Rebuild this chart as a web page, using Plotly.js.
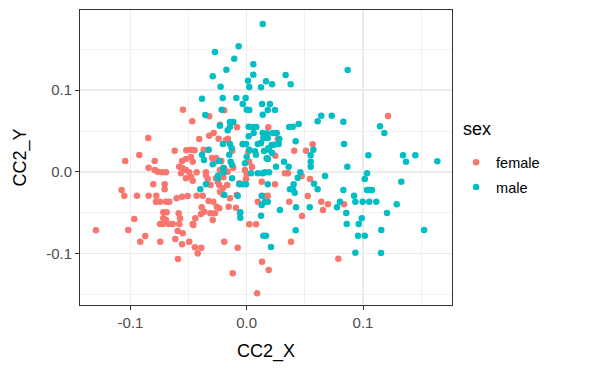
<!DOCTYPE html>
<html><head><meta charset="utf-8">
<script src="https://cdn.plot.ly/plotly-3.0.1.min.js"></script>
<style>html,body{margin:0;padding:0;background:#fff}#chart{width:601px;height:372px}</style>
</head><body><div id="chart"></div>
<script>
const femaleX = [-0.0548,-0.0468,-0.0322,-0.0193,-0.0230,-0.0083,-0.0846,-0.0322,-0.0284,-0.0241,-0.0408,-0.0161,-0.0923,-0.0619,-0.0519,-0.0479,-0.0447,-0.0370,-0.0124,-0.0479,-0.0264,-0.0178,-0.0330,-0.0298,-0.0034,0.0014,-0.0115,-0.0350,-0.0230,-0.0430,-0.0015,-0.0464,0.1215,0.0267,0.0567,0.0409,0.0510,0.0246,0.0186,0.0020,0.0046,0.0329,0.0355,0.0473,0.0544,0.0243,0.0181,0.0366,0.0525,0.0641,0.0699,0.0837,0.0656,0.0476,0.0381,0.0788,0.0189,0.0000,0.0129,0.0149,0.0095,0.0022,0.0080,-0.1044,-0.0791,-0.0843,-0.0791,-0.0765,-0.0728,-0.0694,-0.0803,-0.0705,-0.0705,-0.1075,-0.1052,-0.0943,-0.0843,-0.0777,-0.0780,-0.0745,-0.0694,-0.0666,-0.0602,-0.0556,-0.0507,-0.0556,-0.0522,-0.0580,-0.0550,-0.0522,-0.0565,-0.0494,-0.0522,-0.0479,-0.0464,-0.0430,-0.0378,-0.0327,-0.0966,-0.1296,-0.1018,-0.0872,-0.0915,-0.0743,-0.0717,-0.0688,-0.0717,-0.0694,-0.0745,-0.0720,-0.0671,-0.0636,-0.0585,-0.0573,-0.0580,-0.0593,-0.0550,-0.0614,-0.0556,-0.0494,-0.0445,-0.0421,-0.0390,-0.0591,-0.0464,-0.0442,-0.0393,-0.0365,-0.0387,-0.0313,-0.0292,-0.0236,-0.0193,-0.0077,-0.0120,0.0089,0.0132,-0.0092,-0.0006,-0.0064,-0.0236,-0.0206,-0.0230,-0.0206,-0.0350,-0.0335,-0.0270,-0.0218,-0.0193,-0.0163,-0.0249,-0.0155,-0.0264,-0.0201,-0.0167,-0.0287,-0.0258,-0.0273,-0.0086,-0.0058,-0.0144,-0.0459,-0.0310];
const femaleY = [0.0762,0.0620,0.0681,0.0754,0.0578,0.0546,0.0416,0.0444,0.0477,0.0407,0.0403,0.0407,0.0208,0.0260,0.0265,0.0273,0.0265,0.0273,0.0260,0.0183,0.0171,0.0391,0.0269,0.0171,0.0339,0.0248,0.0053,-0.0004,0.0024,-0.0004,0.0024,0.0126,0.0685,0.0403,0.0339,0.0260,0.0260,0.0199,0.0546,0.0126,0.0061,-0.0016,-0.0016,-0.0049,-0.0086,-0.0150,-0.0290,-0.0363,-0.0293,-0.0363,-0.0395,-0.0395,-0.0465,-0.0538,-0.0852,-0.1060,-0.1198,-0.0024,-0.0119,-0.0293,-0.0363,-0.0639,-0.0639,0.0134,0.0134,0.0053,0.0024,0.0004,-0.0004,-0.0004,-0.0150,-0.0150,-0.0211,-0.0220,-0.0290,-0.0290,-0.0290,-0.0290,-0.0363,-0.0363,-0.0363,-0.0363,-0.0322,-0.0302,-0.0293,0.0134,0.0159,0.0065,0.0045,0.0024,-0.0016,-0.0004,-0.0077,-0.0057,-0.0106,-0.0290,-0.0290,-0.0355,-0.0575,-0.0713,-0.0709,-0.0782,-0.0852,-0.0852,-0.0493,-0.0493,-0.0566,-0.0587,-0.0636,-0.0636,-0.0636,-0.0636,-0.0505,-0.0566,-0.0636,-0.0721,-0.0750,-0.0819,-0.0884,-0.0852,-0.0921,-0.0994,-0.0925,-0.1064,-0.0636,-0.0566,-0.0513,-0.0485,-0.0432,-0.0505,-0.0587,-0.0444,-0.0852,-0.0925,-0.1238,-0.1483,-0.1097,-0.0436,-0.0086,-0.0138,-0.0159,-0.0199,-0.0241,-0.0273,-0.0037,-0.0086,0.0126,0.0134,0.0045,0.0004,-0.0119,-0.0424,-0.0077,-0.0065,-0.0159,-0.0363,-0.0424,-0.0505,-0.0281,-0.0505,-0.0322,-0.0648,-0.0159];
const maleX = [0.0138,-0.0069,-0.0273,-0.0107,0.0057,-0.0175,0.0057,-0.0292,0.0011,0.0022,0.0123,0.0166,-0.0224,-0.0384,-0.0206,-0.0089,-0.0009,-0.0034,0.0000,0.0022,0.0132,-0.0215,-0.0356,0.0138,-0.0144,-0.0115,-0.0230,-0.0144,-0.0163,0.0017,0.0052,0.0083,0.0060,0.0017,0.0138,-0.0204,-0.0144,-0.0034,-0.0006,0.0095,0.0123,0.0022,0.0071,0.0080,-0.0327,-0.0384,-0.0150,0.0149,-0.0129,-0.0367,-0.0138,-0.0201,-0.0015,0.0000,0.0868,0.0335,0.0378,0.0218,0.0200,0.0243,0.0181,0.0641,0.0731,0.0610,0.0831,0.0447,0.0366,0.0396,0.1146,0.1183,0.0224,0.0258,0.0181,0.0280,0.0421,0.0237,0.0275,0.0837,0.0194,0.0573,0.0218,0.0550,0.1046,0.1344,0.1450,0.0172,0.0143,0.0215,0.0186,0.0172,0.0550,0.0550,0.1370,0.1639,0.0321,0.0252,0.0361,0.0865,0.0181,0.0157,0.0192,0.0461,0.0439,0.1034,0.1015,0.0673,0.1329,0.0181,0.0404,0.0579,0.0372,0.0396,0.0413,0.0610,0.0831,0.1034,0.1058,0.1077,0.0923,0.0181,0.0802,0.0934,0.0997,0.1054,0.1114,0.1290,0.0776,0.0424,0.0542,0.0286,0.0856,0.1206,0.0989,0.0963,0.0860,0.0421,0.1157,0.1525,0.0957,0.1015,0.0166,0.0209,0.0934,0.1155,-0.0292,-0.0236,-0.0126,-0.0247,-0.0247,-0.0126,-0.0198,-0.0350,-0.0399,-0.0064,-0.0034,-0.0006,0.0037,0.0095,0.0138,-0.0193,-0.0077,0.0129,0.0129,-0.0055,-0.0055,0.0123,0.0143,0.0157];
const maleY = [0.1809,0.1537,0.1467,0.1385,0.1317,0.1251,0.1190,0.1170,0.1116,0.1039,0.1035,0.1109,0.1043,0.0896,0.0905,0.0905,0.0905,0.0831,0.0762,0.0758,0.0831,0.0762,0.0697,0.0700,0.0611,0.0611,0.0566,0.0550,0.0510,0.0554,0.0550,0.0550,0.0477,0.0436,0.0477,0.0342,0.0342,0.0342,0.0342,0.0342,0.0355,0.0273,0.0253,0.0212,0.0273,0.0212,0.0212,0.0257,0.0290,0.0147,0.0126,0.0053,0.0106,0.0187,0.1247,0.1186,0.1072,0.1072,0.0831,0.0758,0.0758,0.0688,0.0688,0.0620,0.0615,0.0587,0.0550,0.0554,0.0559,0.0477,0.0477,0.0477,0.0416,0.0403,0.0375,0.0334,0.0342,0.0342,0.0273,0.0273,0.0232,0.0204,0.0204,0.0204,0.0204,0.0473,0.0412,0.0330,0.0290,0.0167,0.0126,0.0065,0.0126,0.0131,0.0126,0.0065,0.0065,0.0065,0.0159,-0.0004,-0.0004,-0.0004,-0.0070,-0.0016,-0.0086,-0.0049,-0.0119,-0.0150,-0.0150,-0.0143,-0.0211,-0.0211,-0.0253,-0.0211,-0.0220,-0.0220,-0.0220,-0.0220,-0.0290,-0.0363,-0.0363,-0.0363,-0.0363,-0.0363,-0.0363,-0.0395,-0.0432,-0.0432,-0.0432,-0.0465,-0.0501,-0.0501,-0.0566,-0.0636,-0.0636,-0.0713,-0.0709,-0.0709,-0.0779,-0.0779,-0.0779,-0.0917,-0.0987,-0.0990,0.0094,0.0134,0.0086,-0.0045,-0.0077,-0.0077,-0.0004,-0.0150,-0.0211,-0.0150,-0.0150,-0.0150,-0.0016,-0.0016,-0.0016,-0.0281,-0.0290,-0.0290,-0.0403,-0.0493,-0.0559,-0.0534,-0.0779,-0.0363];
const seriesNames = ['female','male'];
const seriesColors = ['#F8766D','#00BFC4'];
const legendTitle = 'sex';
const xTickVals = [-0.1, 0.0, 0.1];
const xTickText = ['-0.1','0.0','0.1'];
const yTickVals = [-0.1, 0.0, 0.1];
const yTickText = ['-0.1','0.0','0.1'];

const FONT = 'Liberation Sans, Arial, Helvetica, sans-serif';
const traces = [
  {x: femaleX, y: femaleY, name: seriesNames[0], legendgroup: 'f', type: 'scatter', mode: 'markers',
   marker: {color: seriesColors[0], size: 6.5}},
  {x: maleX, y: maleY, name: seriesNames[1], legendgroup: 'm', type: 'scatter', mode: 'markers',
   marker: {color: seriesColors[1], size: 6.5}}
];
const axisCommon = {
  showline: true, mirror: true, linecolor: '#333333', linewidth: 1,
  showgrid: true, gridcolor: '#EBEBEB', gridwidth: 1.4, zeroline: false,
  ticks: 'outside', ticklen: 4, tickcolor: '#333333', tickwidth: 1,
  tickfont: {family: FONT, size: 15, color: '#4D4D4D'},
  minor: {dtick: 0.05, showgrid: true, gridcolor: '#EDEDED', gridwidth: 0.8, ticks: ''}
};
const layout = {
  width: 601, height: 372,
  margin: {l: 80, r: 149, t: 10, b: 67},
  paper_bgcolor: '#FFFFFF', plot_bgcolor: '#FFFFFF',
  font: {family: FONT, color: '#000000'},
  xaxis: Object.assign({}, axisCommon, {
    range: [-0.1433, 0.1765], tickmode: 'array', tickvals: xTickVals, ticktext: xTickText,
    title: {text: 'CC2_X', font: {family: FONT, size: 18, color: '#000'}, standoff: 14}
  }),
  yaxis: Object.assign({}, axisCommon, {
    range: [-0.1626, 0.198], tickmode: 'array', tickvals: yTickVals, ticktext: yTickText,
    title: {text: 'CC2_Y', font: {family: FONT, size: 18, color: '#000'}, standoff: 14}
  }),
  showlegend: true,
  legend: {
    x: 1.011, y: 0.538, xanchor: 'left', yanchor: 'top',
    font: {family: FONT, size: 14.5, color: '#000'},
    bgcolor: 'rgba(0,0,0,0)', itemsizing: 'trace', tracegroupgap: 3
  },
  annotations: [{
    text: legendTitle, xref: 'paper', yref: 'paper', x: 1.025, y: 0.597,
    xanchor: 'left', yanchor: 'middle', showarrow: false,
    font: {family: FONT, size: 18, color: '#000'}
  }]
};
Plotly.newPlot('chart', traces, layout, {displayModeBar: false, staticPlot: true});
</script>
</body></html>
